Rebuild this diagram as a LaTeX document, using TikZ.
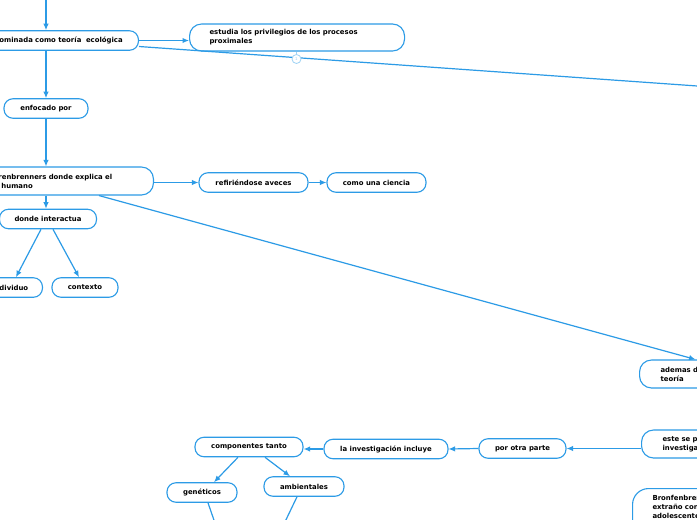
\documentclass[tikz,border=0pt]{standalone}
\usepackage{fontspec}
\newfontfamily\nodefont{DejaVu Sans}
\usetikzlibrary{arrows.meta}
\definecolor{mblue}{HTML}{2C9BE6}
\definecolor{lblue}{HTML}{9FD3F5}
\tikzset{
  box/.style={draw=mblue, line width=1.1pt, fill=white, rounded corners=9pt,
    font=\nodefont\bfseries\fontsize{6.9}{9}\selectfont, text=black,
    minimum height=19.5pt, inner ysep=2pt},
  lbox/.style={box, align=left},
  tall/.style={minimum height=28pt, rounded corners=12pt},
  arr/.style={draw=mblue, line width=1.2pt, -{Latex[length=6.5pt,width=5.5pt]}},
  ln/.style={draw=mblue, line width=1.2pt},
}
\begin{document}
\begin{tikzpicture}[x=1pt,y=-1pt]
\clip (0,0) rectangle (697,520);
\fill[white] (0,0) rectangle (697,520);
% nodes
\node[lbox, anchor=east, inner xsep=10pt, text width=129pt] (den) at (139,40.5) {ominada como teoría\ \ ecológica};
\node[lbox, tall, anchor=west, inner xsep=20pt, text width=175pt, minimum height=27pt] (est) at (189,37.5) {estudia los privilegios de los procesos\\proximales};
\node[box, minimum width=84pt] (enf) at (46,108.5) {enfocado por};
\node[lbox, tall, anchor=east, inner xsep=10pt, text width=145pt] (bron) at (154,181) {renbrenners donde explica el\\\hspace*{3pt}humano};
\node[box, minimum width=109pt] (ref) at (253.5,182.5) {refiriéndose aveces};
\node[box, minimum width=99pt] (cien) at (376.5,182.5) {como una ciencia};
\node[box, minimum width=97pt] (dint) at (48,219) {donde interactua};
\node[lbox, anchor=east, inner xsep=10pt, text width=33pt] (ind) at (43,287.5) {dividuo};
\node[box, minimum width=66pt] (ctx) at (85,287.5) {contexto};
\node[lbox, tall, anchor=west, inner xsep=21pt, text width=60pt] (adem) at (639,374) {ademas d\\teoría};
\node[lbox, tall, anchor=west, inner xsep=21pt, text width=60pt] (este) at (641,444) {este se p\\investiga};
\node[box, minimum width=87pt] (otra) at (522.5,448.5) {por otra parte};
\node[box, minimum width=124pt] (linv) at (386,449) {la investigación incluye};
\node[box, minimum width=108pt] (comp) at (249,447) {componentes tanto};
\node[box, minimum width=70pt] (gen) at (202,492.5) {genéticos};
\node[box, minimum width=80pt] (amb) at (304,486.5) {ambientales};
\node[lbox, anchor=north west, inner xsep=20pt, inner ysep=3pt, text width=60pt, rounded corners=16pt, minimum height=48pt] (bfb) at (632,488) {Bronfenbren\\extraño con\\adolescente\\\strut};
% free ends
\coordinate (top) at (46,-5);
\coordinate (farR) at (720,87.6);
\coordinate (genEnd) at (216,526);
\coordinate (ambEnd) at (283,526);
% connectors
\draw[arr] (top) -- (top |- den.north);
\draw[arr] (den.east) -- (est.west |- den.east);
\draw[ln] ([yshift=-6pt]den.east) -- (farR);
\node[circle, draw=lblue, line width=0.8pt, fill=white, inner sep=0pt, minimum size=9pt, font=\nodefont\fontsize{4}{4}\selectfont, text=lblue] (one) at (296.5,59) {1};
\draw[lblue, line width=0.8pt] (est.south -| one) -- (one.north);
\draw[arr] (den.south -| enf.north) -- (enf.north);
\draw[arr] (enf.south) -- (enf.south |- bron.north);
\draw[arr] (bron.east |- ref.west) -- (ref.west);
\draw[arr] (ref.east) -- (cien.west);
\draw[arr] (bron.south -| 46,0) -- (46,0 |- dint.north);
\draw[arr] ([xshift=-7pt]dint.south) -- (ind.north);
\draw[arr] ([xshift=5pt]dint.south) -- ([xshift=-6pt]ctx.north);
\draw[arr] ([xshift=28pt]bron.south) -- ([xshift=5pt]adem.north);
\draw[arr] (este.west |- otra.east) -- (otra.east);
\draw[arr] (otra.west) -- (linv.east);
\draw[arr] (linv.west) -- (comp.east |- linv.west);
\draw[arr] ([xshift=-11pt]comp.south) -- ([xshift=12pt]gen.north);
\draw[arr] ([xshift=16pt]comp.south) -- ([xshift=-14pt]amb.north);
\draw[ln] ([xshift=6pt]gen.south) -- (genEnd);
\draw[ln] ([xshift=-7pt]amb.south) -- (ambEnd);
\end{tikzpicture}
\end{document}
